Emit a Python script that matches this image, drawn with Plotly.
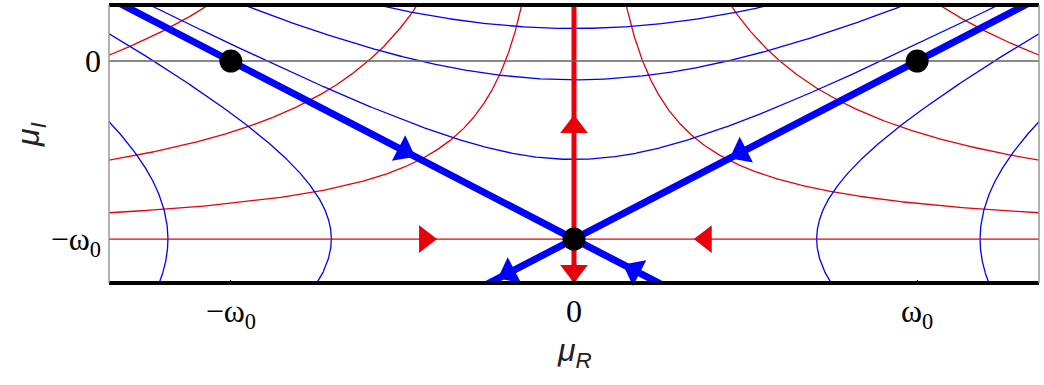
import numpy as np
import plotly.graph_objects as go

# ---- data (units of omega_0) ----
x_range = [-1.355, 1.355]
y_range = [-1.247, 0.315]

# level values of Im f / 2 = muR*(muI+1)  (red, thin)
im_levels = [-1.4, -0.6, -0.2, 0.2, 0.6, 1.4]
# level values of Re f = muR^2 - (muI+1)^2  (blue, thin)
re_levels = [-1.4, -0.8, -0.2, 0.5, 1.4]

# critical points
crit_x = [-1.0, 0.0, 1.0]
crit_y = [0.0, -1.0, 0.0]

# arrow heads: position and direction
blue_arrow_x = [-0.495, 0.486, -0.19, 0.175]
blue_arrow_y = [-0.505, -0.514, -1.19, -1.175]
blue_arrow_dx = [1, -1, -1, -1]
blue_arrow_dy = [-1, -1, -1, 1]

red_arrow_x = [0.0, 0.0, -0.434, 0.384]
red_arrow_y = [-0.37, -1.18, -1.0, -1.0]
red_arrow_dx = [0, 0, 1, -1]
red_arrow_dy = [1, -1, 0, 0]

x_tickvals = [-1, 0, 1]
x_ticktext = ["\u2212\u03c9<sub>0</sub>", "0", "\u03c9<sub>0</sub>"]
y_tickvals = [0, -1]
y_ticktext = ["0", "\u2212\u03c9<sub>0</sub>"]

# ---- layout geometry ----
W, H = 1044, 385
ml, mr, mt, mb = 109, 5, 5, 102
pw, ph = W - ml - mr, H - mt - mb
kx = pw / (x_range[1] - x_range[0])
ky = ph / (y_range[1] - y_range[0])

RED = "#e8000b"
BLUE = "#0000ff"

fig = go.Figure()

xs = np.linspace(x_range[0] - 0.01, x_range[1] + 0.01, 2000)
ys = np.linspace(y_range[0] - 0.01, y_range[1] + 0.01, 1000)

# red thin level curves (Im)
for c in im_levels:
    xx = xs[(xs * c) > 0]
    yy = c / xx - 1
    yy = np.where(np.abs(yy) > 5, np.nan, yy)
    fig.add_trace(go.Scatter(x=xx, y=yy, mode="lines",
                             line=dict(color=RED, width=1.3), hoverinfo="skip"))

# blue thin level curves (Re)
for c in re_levels:
    if c < 0:
        yy = -1 + np.sqrt(xs ** 2 - c)
        fig.add_trace(go.Scatter(x=xs, y=yy, mode="lines",
                                 line=dict(color=BLUE, width=1.3), hoverinfo="skip"))
    else:
        xx = np.sqrt(c + (ys + 1) ** 2)
        for s in (-1, 1):
            fig.add_trace(go.Scatter(x=s * xx, y=ys, mode="lines",
                                     line=dict(color=BLUE, width=1.3), hoverinfo="skip"))

# thin red horizontal Im=0 line
fig.add_trace(go.Scatter(x=x_range, y=[-1, -1], mode="lines",
                         line=dict(color=RED, width=1.3), hoverinfo="skip"))

# thick blue Re=0 lines
fig.add_trace(go.Scatter(x=xs, y=-1 - xs, mode="lines",
                         line=dict(color=BLUE, width=7), hoverinfo="skip"))
fig.add_trace(go.Scatter(x=xs, y=xs - 1, mode="lines",
                         line=dict(color=BLUE, width=7), hoverinfo="skip"))

# thick red vertical line
fig.add_trace(go.Scatter(x=[0, 0], y=[y_range[0] - 0.05, y_range[1] + 0.05], mode="lines",
                         line=dict(color=RED, width=5), hoverinfo="skip"))

# gray zero line
fig.add_trace(go.Scatter(x=[x_range[0], x_range[1]], y=[0, 0], mode="lines",
                         line=dict(color="#606060", width=1.5), hoverinfo="skip"))


def angles(dx, dy):
    return [float(np.degrees(np.arctan2(a * kx, b * ky))) for a, b in zip(dx, dy)]


fig.add_trace(go.Scatter(x=blue_arrow_x, y=blue_arrow_y, mode="markers",
                         marker=dict(symbol="triangle-up", size=25, color=BLUE,
                                     angle=angles(blue_arrow_dx, blue_arrow_dy),
                                     line=dict(width=0)),
                         hoverinfo="skip", cliponaxis=False))
fig.add_trace(go.Scatter(x=red_arrow_x, y=red_arrow_y, mode="markers",
                         marker=dict(symbol="triangle-up", size=24, color=RED,
                                     angle=angles(red_arrow_dx, red_arrow_dy),
                                     line=dict(width=0)),
                         hoverinfo="skip", cliponaxis=False))

# critical points
fig.add_trace(go.Scatter(x=crit_x, y=crit_y, mode="markers",
                         marker=dict(size=23, color="black", line=dict(width=0)),
                         hoverinfo="skip", cliponaxis=False))

# frame
shapes = [
    dict(type="line", xref="paper", yref="paper", x0=0, x1=1, y0=1, y1=1,
         line=dict(color="black", width=4)),
    dict(type="line", xref="paper", yref="paper", x0=0, x1=1, y0=0, y1=0,
         line=dict(color="black", width=4)),
    dict(type="line", xref="paper", yref="paper", x0=0, x1=0, y0=0, y1=1,
         line=dict(color="#999999", width=1.5)),
    dict(type="line", xref="paper", yref="paper", x0=1, x1=1, y0=0, y1=1,
         line=dict(color="#999999", width=1.5)),
]

tickfont = dict(family="Liberation Serif", size=32, color="black")
titlefont = dict(family="Liberation Sans", size=32, color="#222")
fig.update_layout(
    width=W, height=H,
    margin=dict(l=ml, r=mr, t=mt, b=mb),
    paper_bgcolor="white", plot_bgcolor="white",
    showlegend=False,
    shapes=shapes,
    xaxis=dict(range=x_range, showgrid=False, zeroline=False, showline=False,
               tickvals=x_tickvals, ticktext=x_ticktext, tickfont=tickfont,
               ticks="inside", ticklen=3, tickcolor="black", ticklabelstandoff=6),
    yaxis=dict(range=y_range, showgrid=False, zeroline=False, showline=False,
               tickvals=y_tickvals, ticktext=y_ticktext, tickfont=tickfont,
               ticks="", ticklabelstandoff=7),
    annotations=[
        dict(text="<i>\u03bc<sub>R</sub></i>",
             xref="paper", yref="paper",
             x=0.5, y=-(352 - (H - mb)) / ph,
             showarrow=False, font=titlefont,
             xanchor="center", yanchor="middle"),
        dict(text="<i>\u03bc<sub>I</sub></i>",
             xref="paper", yref="paper",
             x=(30 - ml) / pw, y=(H - mb - 135) / ph, textangle=-90,
             showarrow=False, font=titlefont,
             xanchor="center", yanchor="middle"),
    ],
)

fig.write_html("out.html", config={"displayModeBar": False})

# remove the default page margin so the figure sits at the window origin
with open("out.html", "r", encoding="utf-8") as f:
    html = f.read()
html = html.replace("<head>", "<head><style>html,body{margin:0;padding:0;overflow:hidden}</style>", 1)
with open("out.html", "w", encoding="utf-8") as f:
    f.write(html)
